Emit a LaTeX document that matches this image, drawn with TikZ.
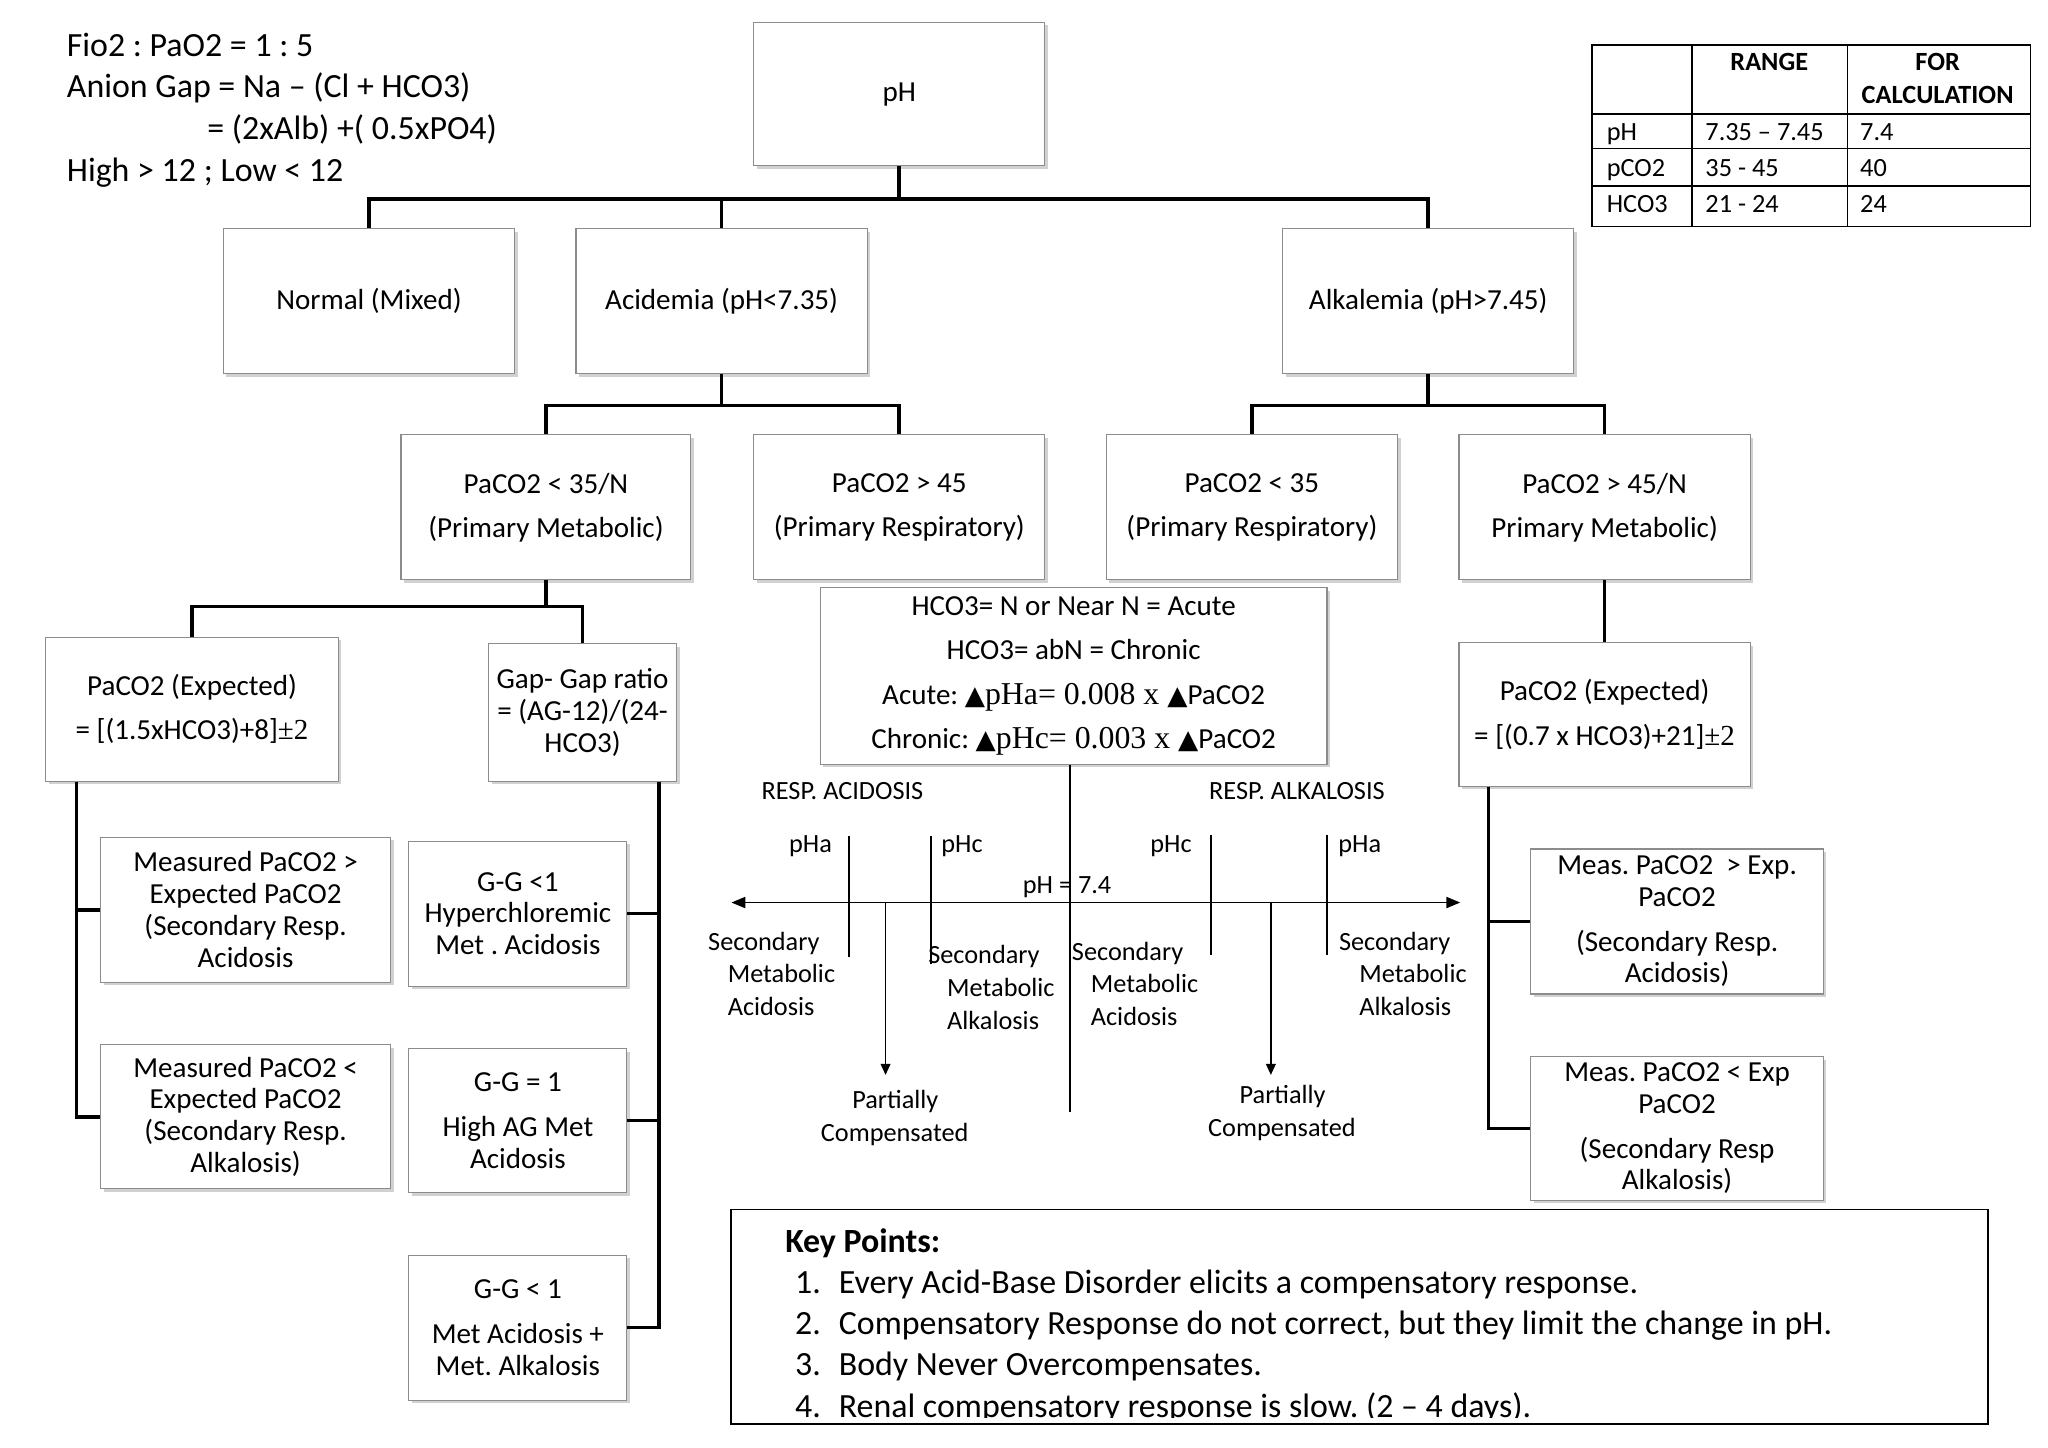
\documentclass[tikz,border=0pt]{standalone}
\usepackage{fontspec}
\setmainfont{Carlito}
\newfontfamily\tnr{Liberation Serif}
\newfontfamily\dvs{DejaVu Sans}
\usetikzlibrary{arrows.meta,shadows,fit,calc}
\newcommand\tri{{\dvs\fontsize{19}{19}\selectfont ▲}}
\newcommand\tms[1]{{\tnr\fontsize{23}{23}\selectfont #1}}
\def\uu{0.94393pt}
\frenchspacing
\begin{document}
\begin{tikzpicture}[x=0.0130612in,y=-0.0130612in,
  box/.style={draw=black!45, line width=0.8pt, fill=white, inner sep=0pt, align=center,
    font=\fontsize{21}{23}\selectfont,
    drop shadow={shadow xshift=2.2pt, shadow yshift=-2.2pt, fill=black!40, opacity=0.45}},
  conn/.style={line width=2.6pt, black},
  axl/.style={line width=1.2pt, black},
  lbl/.style={inner sep=0pt, font=\fontsize{19}{23}\selectfont},
  big/.style={inner sep=0pt, font=\fontsize{24.5}{30}\selectfont},
  tbl/.style={inner sep=0pt, font=\fontsize{19}{23}\selectfont},
  tblh/.style={inner sep=0pt, font=\fontsize{19}{23}\selectfont\bfseries},
  tline/.style={line width=1.2pt, black}]
\useasboundingbox (0,0) rectangle (1568,1108);
\fill[white] (0,0) rectangle (1568,1108);

% ---------- top-left notes
\node[big, anchor=base west] (n1) at (51,43) {Fio2 : PaO2 = 1 : 5};
\node[big, anchor=base west] (n2) at (51,75) {Anion Gap = Na – (Cl + HCO3)};
\node[big, anchor=base west] (n3) at (158.5,107) {= (2xAlb) +( 0.5xPO4)};
\node[big, anchor=base west] (n4) at (51,139) {High > 12 ; Low < 12};

% ---------- boxes
\newcommand\bx[7][]{\node[box, #1, minimum width={(#5-#3)*\uu}, minimum height={(#6-#4)*\uu}]
  (#2) at ({(#3+#5)/2},{(#4+#6)/2}) {#7};}
\bx{ph}{577}{17}{800}{127}{pH}
\bx{normal}{171}{175}{394}{286}{Normal (Mixed)}
\bx{acid}{441}{175}{664}{286}{Acidemia (pH<7.35)}
\bx{alk}{982}{175}{1205}{286}{Alkalemia (pH>7.45)}
\bx{l3a}{307}{333}{529}{444}{PaCO2 < 35/N\\[9pt](Primary Metabolic)}
\bx{l3b}{577}{333}{800}{444}{PaCO2 > 45\\[9pt](Primary Respiratory)}
\bx{l3c}{847}{333}{1070}{444}{PaCO2 < 35\\[9pt](Primary Respiratory)}
\bx{l3d}{1117}{333}{1340}{444}{PaCO2 > 45/N\\[9pt]Primary Metabolic)}
\bx{pe1}{35}{488}{259}{598}{PaCO2 (Expected)\\[9pt]= [(1.5xHCO3)+8]{\tnr ±2}}
\bx{gap}{374}{493}{518}{598}{Gap- Gap ratio\\= (AG-12)/(24-\\HCO3)}
\bx{pe2}{1117}{492}{1340}{602}{PaCO2 (Expected)\\[9pt]= [(0.7 x HCO3)+21]{\tnr ±2}}
\bx{m1}{77}{641}{299}{752}{Measured PaCO2 >\\Expected PaCO2\\(Secondary Resp.\\Acidosis}
\bx{m2}{77}{800}{299}{910}{Measured PaCO2 <\\Expected PaCO2\\(Secondary Resp.\\Alkalosis)}
\bx{g1}{313}{644}{480}{755}{G-G <1\\Hyperchloremic\\Met . Acidosis}
\bx{g2}{313}{803}{480}{913}{G-G = 1\\[9pt]High AG Met\\Acidosis}
\bx{g3}{313}{961}{480}{1072}{G-G < 1\\[9pt]Met Acidosis +\\Met. Alkalosis}
\bx{r1}{1172}{650}{1396}{761}{Meas. PaCO2 \ > Exp.\\PaCO2\\[9pt](Secondary Resp.\\Acidosis)}
\bx{r2}{1172}{809}{1396}{919}{Meas. PaCO2 < Exp\\PaCO2\\[9pt](Secondary Resp\\Alkalosis)}
\bx[font=\fontsize{21}{32}\selectfont]{hco}{628}{450}{1016}{585}
  {HCO3= N or Near N = Acute\\HCO3= abN = Chronic\\
   Acute: \tri\tms{pHa= 0.008 x }\tri PaCO2\\
   Chronic: \tri\tms{pHc= 0.003 x }\tri PaCO2}

% ---------- tree connectors
\draw[conn] (ph.south) -- ++(0,25) -| (normal.north);
\draw[conn] (ph.south) -- ++(0,25) -| (acid.north);
\draw[conn] (ph.south) -- ++(0,25) -| (alk.north);
\draw[conn] (acid.south) -- ++(0,24) -| (l3a.north);
\draw[conn] (acid.south) -- ++(0,24) -| (l3b.north);
\draw[conn] (alk.south) -- ++(0,24) -| (l3c.north);
\draw[conn] (alk.south) -- ++(0,24) -| (l3d.north);
\draw[conn] (l3a.south) -- ++(0,20) -| (pe1.north);
\draw[conn] (l3a.south) -- ++(0,20) -| (gap.north);
\draw[conn] (l3d.south) -- (pe2.north);
\draw[conn] ($(pe1.south west)+(24,0)$) |- (m1.west);
\draw[conn] ($(pe1.south west)+(24,0)$) |- (m2.west);
\draw[conn] ($(gap.south east)+(-14,0)$) |- (g1.east);
\draw[conn] ($(gap.south east)+(-14,0)$) |- (g2.east);
\draw[conn] ($(gap.south east)+(-14,0)$) |- (g3.east);
\draw[conn] ($(pe2.south west)+(23,0)$) |- (r1.west);
\draw[conn] ($(pe2.south west)+(23,0)$) |- (r2.west);

% ---------- pH axis
\coordinate (cbot) at (819,851);
\draw[axl] (hco.south -| cbot) -- (cbot);
\coordinate (axL) at (560,691);
\coordinate (axR) at (1118,691);
\draw[axl, {Triangle[length=10pt,width=8pt]}-{Triangle[length=10pt,width=8pt]}] (axL) -- (axR);
\coordinate (t1a) at (650,640); \coordinate (t1b) at (650,733);
\coordinate (t2a) at (713,640); \coordinate (t2b) at (713,738);
\coordinate (t3a) at (927,639); \coordinate (t3b) at (927,731);
\coordinate (t4a) at (1016,639); \coordinate (t4b) at (1016,731);
\draw[axl] (t1a) -- (t1b);
\draw[axl] (t2a) -- (t2b);
\draw[axl] (t3a) -- (t3b);
\draw[axl] (t4a) -- (t4b);
\coordinate (d1a) at (678,691); \coordinate (d1b) at (678,823);
\coordinate (d2a) at (973,691); \coordinate (d2b) at (973,823);
\draw[axl, -{Triangle[length=8pt,width=7pt]}] (d1a) -- (d1b);
\draw[axl, -{Triangle[length=8pt,width=7pt]}] (d2a) -- (d2b);

\node[lbl, anchor=base] (ra) at (645,612) {RESP. ACIDOSIS};
\node[lbl, anchor=base] (rk) at (993,612) {RESP. ALKALOSIS};
\node[lbl, anchor=base west] (pha1) at (604,653) {pHa};
\node[lbl, anchor=base west] (phc1) at (720.5,653) {pHc};
\node[lbl, anchor=base west] (phc2) at (880.5,653) {pHc};
\node[lbl, anchor=base west] (pha2) at (1024.5,653) {pHa};
\node[lbl, anchor=base] (ph74) at (817,684) {pH = 7.4};

\node[lbl, anchor=base west] (s1a) at (542,727.5) {Secondary};
\node[lbl, anchor=base west] (s1b) at (557,752.5) {Metabolic};
\node[lbl, anchor=base west] (s1c) at (557,777.5) {Acidosis};
\node[lbl, anchor=base west] (s2a) at (710.5,738) {Secondary};
\node[lbl, anchor=base west] (s2b) at (725,763) {Metabolic};
\node[lbl, anchor=base west] (s2c) at (725,788) {Alkalosis};
\node[lbl, anchor=base west] (s3a) at (820.5,735) {Secondary};
\node[lbl, anchor=base west] (s3b) at (835,760) {Metabolic};
\node[lbl, anchor=base west] (s3c) at (835,785) {Acidosis};
\node[lbl, anchor=base west] (s4a) at (1025,727.5) {Secondary};
\node[lbl, anchor=base west] (s4b) at (1040.5,752.5) {Metabolic};
\node[lbl, anchor=base west] (s4c) at (1040.5,777.5) {Alkalosis};

\node[lbl, anchor=base] (pc1a) at (685.5,848.5) {Partially};
\node[lbl, anchor=base] (pc1b) at (685,874) {Compensated};
\node[lbl, anchor=base] (pc2a) at (982,845) {Partially};
\node[lbl, anchor=base] (pc2b) at (981.5,870) {Compensated};

% ---------- reference table
\draw[tline] (1219,34.5) rectangle (1554.5,173.5);
\draw[tline] (1219,87.3) -- (1554.5,87.3);
\draw[tline] (1219,113.6) -- (1554.5,113.6);
\draw[tline] (1219,142.4) -- (1554.5,142.4);
\draw[tline] (1295.3,34.5) -- (1295.3,173.5);
\draw[tline] (1414.4,34.5) -- (1414.4,173.5);
\node[tblh, anchor=base] (hr) at (1354.6,54.1) {RANGE};
\node[tblh, anchor=base] (hf) at (1483.5,54.1) {FOR};
\node[tblh, anchor=base] (hc) at (1483.5,79.1) {CALCULATION};
\node[tbl, anchor=base west] (c11) at (1230,107.2) {pH};
\node[tbl, anchor=base west] (c12) at (1305.5,107.2) {7.35 – 7.45};
\node[tbl, anchor=base west] (c13) at (1424,107.2) {7.4};
\node[tbl, anchor=base west] (c21) at (1230,135.3) {pCO2};
\node[tbl, anchor=base west] (c22) at (1305.5,135.3) {35 - 45};
\node[tbl, anchor=base west] (c23) at (1424,135.3) {40};
\node[tbl, anchor=base west] (c31) at (1230,162.8) {HCO3};
\node[tbl, anchor=base west] (c32) at (1305.5,162.8) {21 - 24};
\node[tbl, anchor=base west] (c33) at (1424,162.8) {24};

% ---------- key points
\node[big, anchor=base west, font=\fontsize{24.5}{30}\selectfont\bfseries] (kpt) at (601,959) {Key Points:};
\begin{scope}
\clip (560,926) rectangle (1522,1085);
\node[big, anchor=base west] (k1n) at (608.5,990) {1.};
\node[big, anchor=base west] (k1) at (642,990) {Every Acid-Base Disorder elicits a compensatory response.};
\node[big, anchor=base west] (k2n) at (608.5,1021.5) {2.};
\node[big, anchor=base west] (k2) at (642,1021.5) {Compensatory Response do not correct, but they limit the change in pH.};
\node[big, anchor=base west] (k3n) at (608.5,1053) {3.};
\node[big, anchor=base west] (k3) at (642,1053) {Body Never Overcompensates.};
\node[big, anchor=base west] (k4n) at (608.5,1085) {4.};
\node[big, anchor=base west] (k4) at (642,1085) {Renal compensatory response is slow. (2 – 4 days).};
\end{scope}
\node[draw, line width=1.4pt, inner sep=0pt, fit={(560,926)(1522,1090)}] (kpbox) {};
\end{tikzpicture}
\end{document}
